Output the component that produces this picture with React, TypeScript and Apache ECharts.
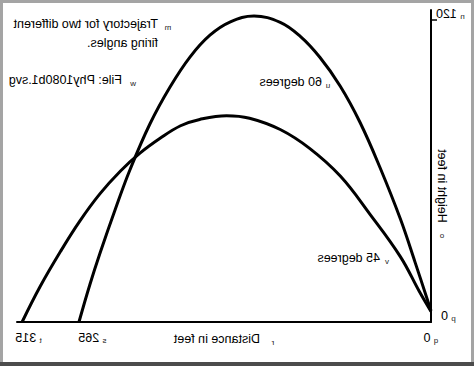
import React, { useEffect, useRef } from 'react';
import * as echarts from 'echarts';

// Trajectory readings (distance in feet, height in feet)
const dist45 = [0, 9, 24, 48, 71, 95, 118, 142, 160, 181, 196, 212, 228, 243, 259, 275, 290, 306, 320];
const height45 = [4.2, 12, 26, 43, 58, 69, 76.5, 81, 82, 80.5, 78, 73, 67, 60, 51, 40, 28, 14, 0];

const dist60 = [0, 12.5, 24, 40, 55.5, 71, 87, 102.5, 118, 138.5, 157, 173, 188.5, 204, 220, 235.5, 247, 259, 267, 275.5];
const height60 = [4.5, 23.8, 41, 61.5, 79.3, 93.7, 105.2, 113.6, 119.1, 121.6, 119.3, 114, 105.4, 93.6, 78.7, 60.6, 44.9, 27.4, 14.8, 0];

const xTickValues = [0, 265, 315];
const xTickMarks = ['q', 's', 't'];
const yTickValues = [0, 120];
const yTickMarks = ['p', 'n'];

const FONT = '"Liberation Sans", Arial, Helvetica, sans-serif';

export default function App() {
  const ref = useRef<HTMLDivElement>(null);

  useEffect(() => {
    const chart = echarts.init(ref.current!, null, { renderer: 'svg' });

    const txt = (text: string, x: number, y: number, size = 12.5, align = 'left', color = '#000', rotation = 0) => ({
      type: 'text',
      x,
      y,
      rotation,
      z: 10,
      style: {
        text,
        fill: color,
        fontSize: size,
        fontFamily: FONT,
        textAlign: align,
        textVerticalAlign: 'middle',
      },
    });
    const mark = (text: string, x: number, y: number) => txt(text, x, y, 8, 'center', '#222');

    const option = {
      animation: false,
      backgroundColor: '#ffffff',
      grid: { left: 43, top: 10, width: 414, height: 312, outerBoundsMode: 'none' },
      xAxis: {
        type: 'value',
        min: 0,
        max: 324,
        axisLine: { show: true, lineStyle: { color: '#000', width: 2 } },
        axisTick: { show: false },
        splitLine: { show: false },
        axisLabel: {
          customValues: xTickValues,
          margin: 9,
          formatter: (v: number) => {
            const i = xTickValues.indexOf(Math.round(v));
            return `{m|${xTickMarks[i] ?? ''}} {v|${v}}`;
          },
          rich: {
            v: { fontSize: 12.5, fontFamily: FONT, color: '#000' },
            m: { fontSize: 8, fontFamily: FONT, color: '#222', verticalAlign: 'bottom' },
          },
        },
      },
      yAxis: {
        type: 'value',
        min: 0,
        max: 124,
        axisLine: { show: true, lineStyle: { color: '#000', width: 2 } },
        axisTick: { show: true, customValues: [120], length: 6, lineStyle: { color: '#000', width: 1.5 } },
        splitLine: { show: false },
        axisLabel: {
          customValues: yTickValues,
          margin: 5,
          verticalAlign: 'bottom',
          formatter: (v: number) => {
            const i = yTickValues.indexOf(Math.round(v));
            return v === 0 ? `{m|${yTickMarks[i]}} {vp|${v}}` : `{m|${yTickMarks[i]}} {v|${v}}`;
          },
          rich: {
            v: { fontSize: 12.5, fontFamily: FONT, color: '#000' },
            vp: { fontSize: 12.5, fontFamily: FONT, color: '#000', padding: [0, 5, 0, 0] },
            m: { fontSize: 8, fontFamily: FONT, color: '#222', verticalAlign: 'bottom' },
          },
        },
      },
      series: [
        {
          name: '45 degrees',
          type: 'line',
          data: dist45.map((d, i) => [d, height45[i]]),
          smooth: 0.4,
          showSymbol: false,
          symbol: 'none',
          lineStyle: { color: '#000', width: 3 },
        },
        {
          name: '60 degrees',
          type: 'line',
          data: dist60.map((d, i) => [d, height60[i]]),
          smooth: 0.4,
          showSymbol: false,
          symbol: 'none',
          lineStyle: { color: '#000', width: 3 },
        },
      ],
      graphic: [
        mark('m', 306, 27),
        txt('Trajectory for two different', 316, 24),
        txt('firing angles.', 316, 43),
        mark('w', 341, 83),
        txt('File: Phy1080b1.svg', 352, 80),
        mark('u', 146, 85),
        txt('60 degrees', 152, 82),
        mark('v', 87, 261),
        txt('45 degrees', 94, 258),
        mark('r', 201, 342),
        txt('Distance in feet', 214, 339),
        mark('o', 32, 235),
        txt('Height in feet', 32, 186, 12.5, 'center', '#000', Math.PI / 2),
        { type: 'rect', z: 20, shape: { x: 0, y: 0, width: 474, height: 3 }, style: { fill: '#a4a4a4' } },
        { type: 'rect', z: 20, shape: { x: 0, y: 0, width: 3, height: 366 }, style: { fill: '#a4a4a4' } },
        { type: 'rect', z: 20, shape: { x: 471, y: 0, width: 3, height: 366 }, style: { fill: '#a4a4a4' } },
        { type: 'rect', z: 21, shape: { x: 0, y: 362, width: 474, height: 4 }, style: { fill: '#4c4c4c' } },
      ],
    };

    chart.setOption(option as any);
    return () => chart.dispose();
  }, []);

  return (
    <div
      ref={ref}
      style={{
        position: 'absolute',
        left: 0,
        top: 0,
        width: 474,
        height: 366,
        transform: 'scaleX(-1)',
        background: '#fff',
      }}
    />
  );
}
